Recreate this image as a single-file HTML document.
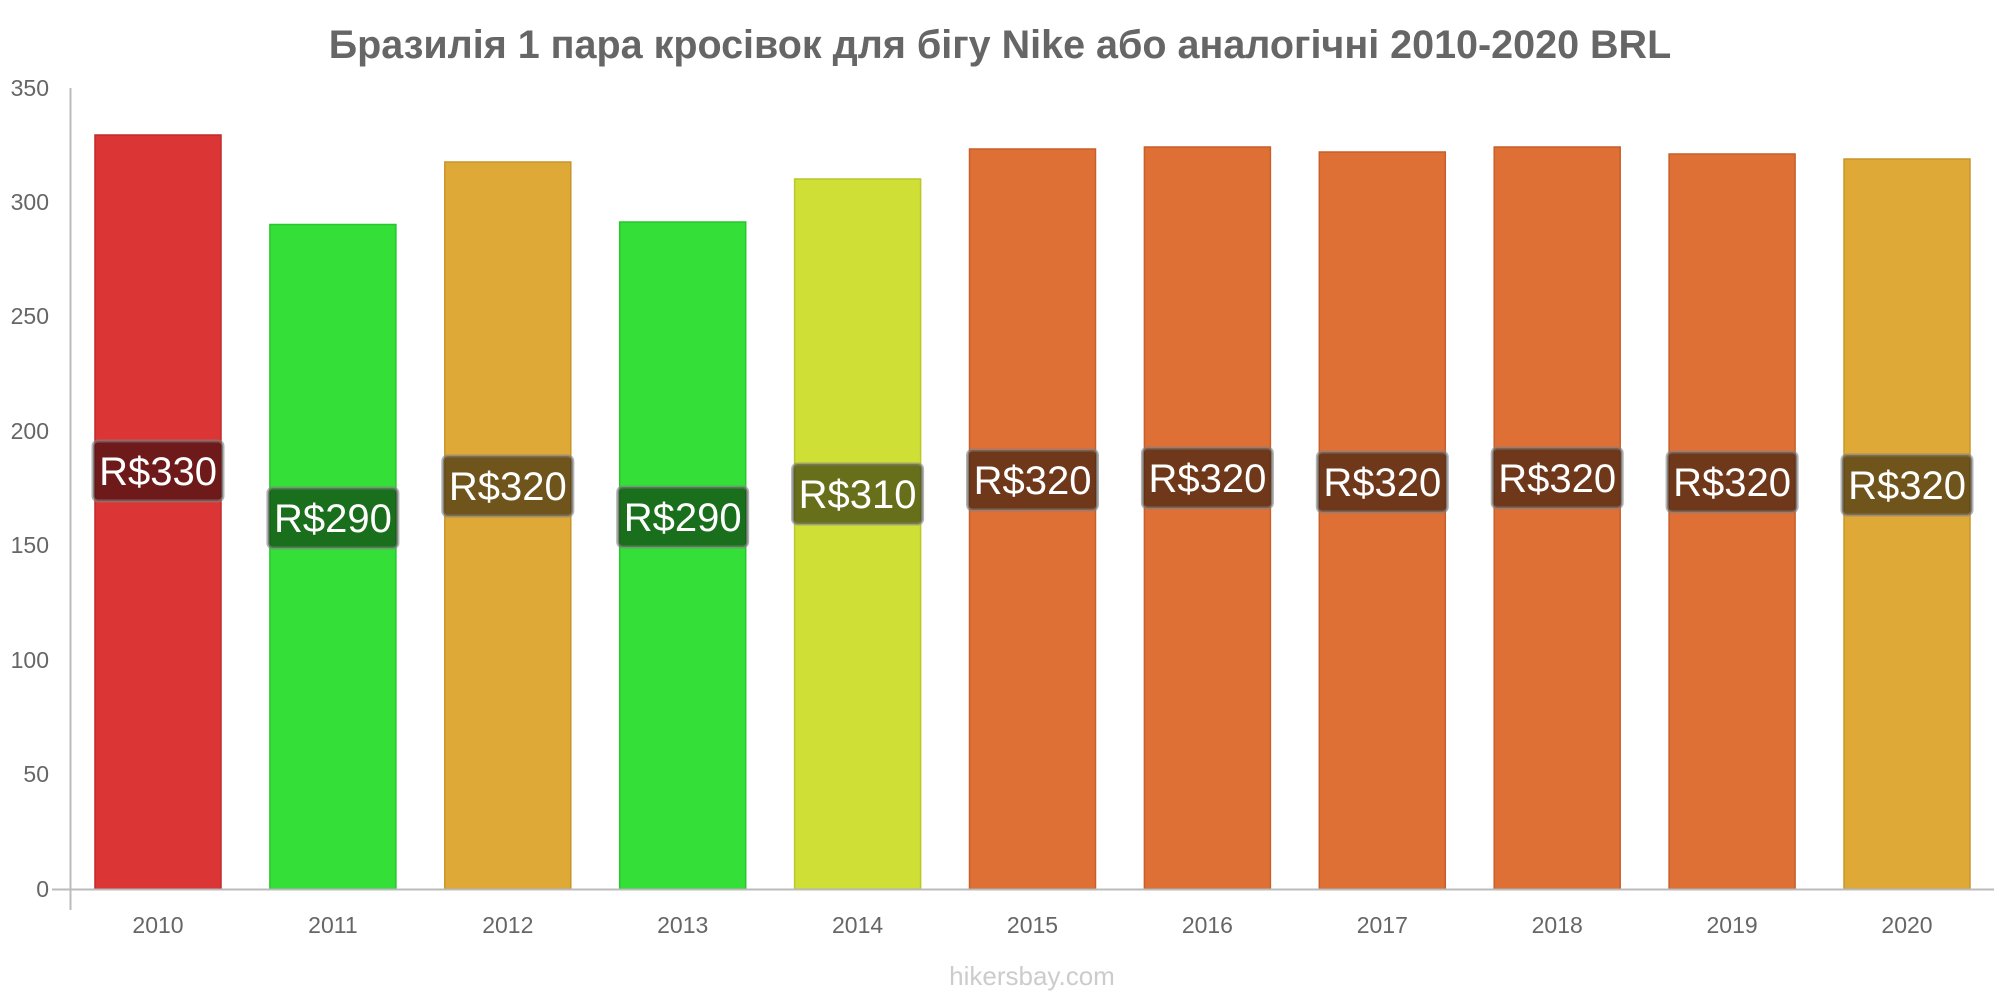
<!DOCTYPE html>
<html><head><meta charset="utf-8"><style>
html,body{margin:0;padding:0;background:#fff;}
svg{display:block;font-family:"Liberation Sans","DejaVu Sans",sans-serif;}
</style></head><body>
<svg width="2000" height="1000" viewBox="0 0 2000 1000" xmlns="http://www.w3.org/2000/svg">
<text x="1000" y="58" text-anchor="middle" font-size="39.5" font-weight="bold" fill="#666">Бразилія 1 пара кросівок для бігу Nike або аналогічні 2010-2020 BRL</text>
<g font-size="23" fill="#666" text-anchor="end">
<text x="49" y="897">0</text><text x="49" y="782">50</text><text x="49" y="668">100</text>
<text x="49" y="553">150</text><text x="49" y="439">200</text><text x="49" y="324">250</text>
<text x="49" y="210">300</text><text x="49" y="96">350</text>
</g>
<g stroke-width="1.5">
<rect x="95" y="135" width="126" height="754" fill="#dc3535" stroke="#c42a2a"/>
<rect x="269.9" y="224.5" width="126" height="664.5" fill="#34df38" stroke="#2ac52e"/>
<rect x="444.8" y="162" width="126" height="727" fill="#dea936" stroke="#c9952a"/>
<rect x="619.7" y="222" width="126" height="667" fill="#34df38" stroke="#2ac52e"/>
<rect x="794.6" y="179" width="126" height="710" fill="#cfdf35" stroke="#b8c72a"/>
<rect x="969.5" y="149" width="126" height="740" fill="#df7035" stroke="#c75f2a"/>
<rect x="1144.4" y="147" width="126" height="742" fill="#df7035" stroke="#c75f2a"/>
<rect x="1319.3" y="152" width="126" height="737" fill="#df7035" stroke="#c75f2a"/>
<rect x="1494.2" y="147" width="126" height="742" fill="#df7035" stroke="#c75f2a"/>
<rect x="1669.1" y="154" width="126" height="735" fill="#df7035" stroke="#c75f2a"/>
<rect x="1844" y="159" width="126" height="730" fill="#dea936" stroke="#c9952a"/>
</g>
<line x1="70.5" y1="88" x2="70.5" y2="910" stroke="#bbb" stroke-width="2"/>
<line x1="52" y1="889.5" x2="1994" y2="889.5" stroke="#bbb" stroke-width="2"/>
<g fill="rgba(0,0,0,0.5)" stroke="rgba(128,128,128,0.6)" stroke-width="3">
<rect x="93" y="441" width="130" height="60" rx="5"/>
<rect x="267.9" y="488" width="130" height="60" rx="5"/>
<rect x="442.8" y="456" width="130" height="60" rx="5"/>
<rect x="617.7" y="487" width="130" height="60" rx="5"/>
<rect x="792.6" y="464" width="130" height="60" rx="5"/>
<rect x="967.5" y="450" width="130" height="60" rx="5"/>
<rect x="1142.4" y="448" width="130" height="60" rx="5"/>
<rect x="1317.3" y="452" width="130" height="60" rx="5"/>
<rect x="1492.2" y="448" width="130" height="60" rx="5"/>
<rect x="1667.1" y="452" width="130" height="60" rx="5"/>
<rect x="1842" y="455" width="130" height="60" rx="5"/>
</g>
<g font-size="40" fill="#fff" text-anchor="middle">
<text x="158" y="485">R$330</text>
<text x="332.9" y="532">R$290</text>
<text x="507.8" y="500">R$320</text>
<text x="682.7" y="531">R$290</text>
<text x="857.6" y="508">R$310</text>
<text x="1032.5" y="494">R$320</text>
<text x="1207.4" y="492">R$320</text>
<text x="1382.3" y="496">R$320</text>
<text x="1557.2" y="492">R$320</text>
<text x="1732.1" y="496">R$320</text>
<text x="1907" y="499">R$320</text>
</g>
<g font-size="23" fill="#666" text-anchor="middle">
<text x="158" y="933">2010</text>
<text x="332.9" y="933">2011</text>
<text x="507.8" y="933">2012</text>
<text x="682.7" y="933">2013</text>
<text x="857.6" y="933">2014</text>
<text x="1032.5" y="933">2015</text>
<text x="1207.4" y="933">2016</text>
<text x="1382.3" y="933">2017</text>
<text x="1557.2" y="933">2018</text>
<text x="1732.1" y="933">2019</text>
<text x="1907" y="933">2020</text>
</g>
<text x="1032" y="985" text-anchor="middle" font-size="26" fill="#ccc">hikersbay.com</text>
</svg>
</body></html>
